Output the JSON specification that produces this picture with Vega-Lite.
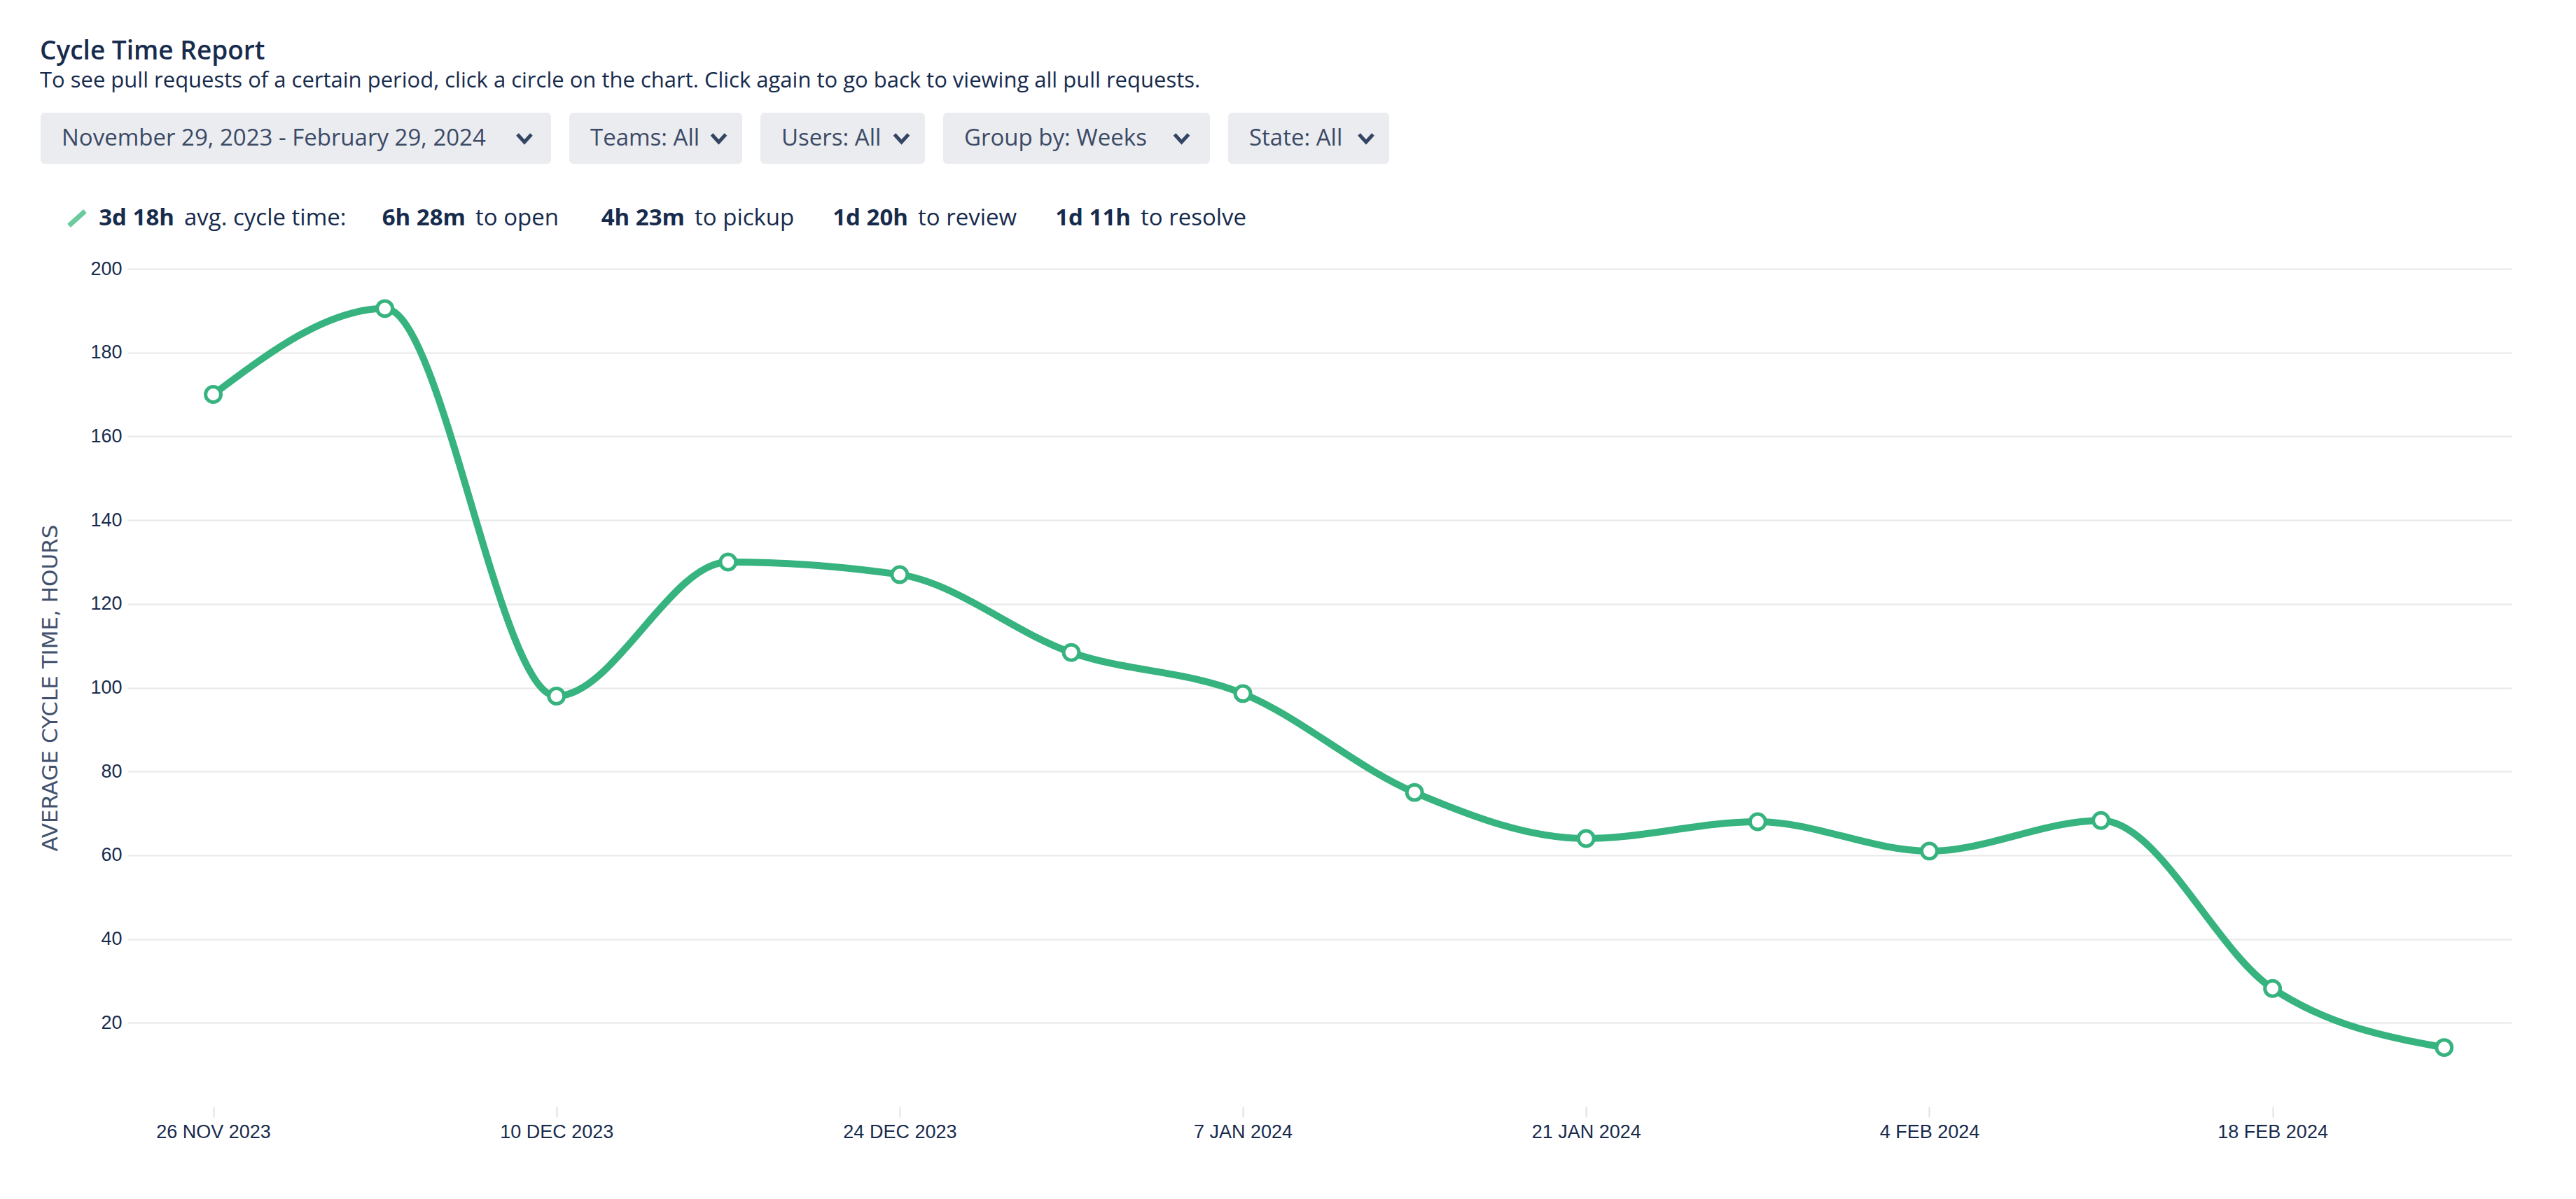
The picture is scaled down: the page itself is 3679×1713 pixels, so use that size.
{
  "$schema": "https://vega.github.io/schema/vega-lite/v6.json",
  "background": "white",
  "padding": {"left": 56, "top": 55, "right": 20, "bottom": 10},
  "title": {
    "text": "Cycle Time Report",
    "subtitle": "To see pull requests of a certain period, click a circle on the chart. Click again to go back to viewing all pull requests.",
    "anchor": "start",
    "font": "Open Sans",
    "fontSize": 37,
    "fontWeight": 600,
    "color": "#172B4D",
    "subtitleFont": "Open Sans",
    "subtitleFontSize": 31,
    "subtitleColor": "#172B4D",
    "subtitlePadding": 8,
    "offset": 29
  },
  "datasets": {
    "filters": [
      {"key": "range", "label": "November 29, 2023 - February 29, 2024"},
      {"key": "teams", "label": "Teams: All"},
      {"key": "users", "label": "Users: All"},
      {"key": "group", "label": "Group by: Weeks"},
      {"key": "state", "label": "State: All"}
    ],
    "stats": [
      {"key": "total", "value": "3d 18h", "label": "avg. cycle time:"},
      {"key": "open", "value": "6h 28m", "label": "to open"},
      {"key": "pickup", "value": "4h 23m", "label": "to pickup"},
      {"key": "review", "value": "1d 20h", "label": "to review"},
      {"key": "resolve", "value": "1d 11h", "label": "to resolve"}
    ],
    "cycle": [
      {"week": "2023-11-26", "hours": 170},
      {"week": "2023-12-03", "hours": 190.5},
      {"week": "2023-12-10", "hours": 98},
      {"week": "2023-12-17", "hours": 130},
      {"week": "2023-12-24", "hours": 127},
      {"week": "2023-12-31", "hours": 108.4},
      {"week": "2024-01-07", "hours": 98.6},
      {"week": "2024-01-14", "hours": 75},
      {"week": "2024-01-21", "hours": 64},
      {"week": "2024-01-28", "hours": 68},
      {"week": "2024-02-04", "hours": 61},
      {"week": "2024-02-11", "hours": 68.3},
      {"week": "2024-02-18", "hours": 28.2},
      {"week": "2024-02-25", "hours": 14.1}
    ]
  },
  "config": {
    "view": {"stroke": null},
    "font": "Open Sans"
  },
  "spacing": 30,
  "vconcat": [
    {
      "spacing": 26,
      "hconcat": [
        {
          "width": 729, "height": 73,
          "view": {"fill": "#EBECF0", "stroke": null, "cornerRadius": 6},
          "data": {"name": "filters"},
          "transform": [{"filter": "datum.key == 'range'"}],
          "layer": [
            {"mark": {"type": "text", "align": "left", "baseline": "middle", "xOffset": -334.5, "fontSize": 33, "color": "#3B4A66"}, "encoding": {"text": {"field": "label"}}},
            {"mark": {"type": "point", "shape": "M-1,-0.55L0,0.55L1,-0.55", "filled": false, "stroke": "#344563", "strokeWidth": 5, "size": 400, "xOffset": 326.5, "opacity": 1}, "encoding": {}}
          ]
        },
        {
          "width": 247, "height": 73,
          "view": {"fill": "#EBECF0", "stroke": null, "cornerRadius": 6},
          "data": {"name": "filters"},
          "transform": [{"filter": "datum.key == 'teams'"}],
          "layer": [
            {"mark": {"type": "text", "align": "left", "baseline": "middle", "xOffset": -93.5, "fontSize": 33, "color": "#3B4A66"}, "encoding": {"text": {"field": "label"}}},
            {"mark": {"type": "point", "shape": "M-1,-0.55L0,0.55L1,-0.55", "filled": false, "stroke": "#344563", "strokeWidth": 5, "size": 400, "xOffset": 90, "opacity": 1}, "encoding": {}}
          ]
        },
        {
          "width": 235, "height": 73,
          "view": {"fill": "#EBECF0", "stroke": null, "cornerRadius": 6},
          "data": {"name": "filters"},
          "transform": [{"filter": "datum.key == 'users'"}],
          "layer": [
            {"mark": {"type": "text", "align": "left", "baseline": "middle", "xOffset": -87.5, "fontSize": 33, "color": "#3B4A66"}, "encoding": {"text": {"field": "label"}}},
            {"mark": {"type": "point", "shape": "M-1,-0.55L0,0.55L1,-0.55", "filled": false, "stroke": "#344563", "strokeWidth": 5, "size": 400, "xOffset": 84, "opacity": 1}, "encoding": {}}
          ]
        },
        {
          "width": 381, "height": 73,
          "view": {"fill": "#EBECF0", "stroke": null, "cornerRadius": 6},
          "data": {"name": "filters"},
          "transform": [{"filter": "datum.key == 'group'"}],
          "layer": [
            {"mark": {"type": "text", "align": "left", "baseline": "middle", "xOffset": -160.5, "fontSize": 33, "color": "#3B4A66"}, "encoding": {"text": {"field": "label"}}},
            {"mark": {"type": "point", "shape": "M-1,-0.55L0,0.55L1,-0.55", "filled": false, "stroke": "#344563", "strokeWidth": 5, "size": 400, "xOffset": 150, "opacity": 1}, "encoding": {}}
          ]
        },
        {
          "width": 230, "height": 73,
          "view": {"fill": "#EBECF0", "stroke": null, "cornerRadius": 6},
          "data": {"name": "filters"},
          "transform": [{"filter": "datum.key == 'state'"}],
          "layer": [
            {"mark": {"type": "text", "align": "left", "baseline": "middle", "xOffset": -85, "fontSize": 33, "color": "#3B4A66"}, "encoding": {"text": {"field": "label"}}},
            {"mark": {"type": "point", "shape": "M-1,-0.55L0,0.55L1,-0.55", "filled": false, "stroke": "#344563", "strokeWidth": 5, "size": 400, "xOffset": 82, "opacity": 1}, "encoding": {}}
          ]
        }
      ]
    },
    {
      "spacing": 0,
      "bounds": "flush",
      "hconcat": [
        {
          "width": 396, "height": 76,
          "data": {"name": "stats"},
          "transform": [{"filter": "datum.key == 'total'"}],
          "layer": [
            {"mark": {"type": "point", "shape": "M-1,0.9L1,-0.9", "filled": false, "stroke": "#6ACB9E", "strokeWidth": 7, "size": 529, "xOffset": -146, "yOffset": 10, "opacity": 1}, "encoding": {}},
            {"mark": {"type": "text", "align": "right", "baseline": "middle", "xOffset": -7, "yOffset": 10, "fontSize": 33, "fontWeight": "bold", "color": "#172B4D"}, "encoding": {"text": {"field": "value"}}},
            {"mark": {"type": "text", "align": "left", "baseline": "middle", "xOffset": 7, "yOffset": 10, "fontSize": 33, "color": "#172B4D"}, "encoding": {"text": {"field": "label"}}}
          ]
        },
        {
          "width": 436, "height": 76,
          "data": {"name": "stats"},
          "transform": [{"filter": "datum.key == 'open'"}],
          "layer": [
            {"mark": {"type": "text", "align": "right", "baseline": "middle", "xOffset": -7, "yOffset": 10, "fontSize": 33, "fontWeight": "bold", "color": "#172B4D"}, "encoding": {"text": {"field": "value"}}},
            {"mark": {"type": "text", "align": "left", "baseline": "middle", "xOffset": 7, "yOffset": 10, "fontSize": 33, "color": "#172B4D"}, "encoding": {"text": {"field": "label"}}}
          ]
        },
        {
          "width": 190, "height": 76,
          "data": {"name": "stats"},
          "transform": [{"filter": "datum.key == 'pickup'"}],
          "layer": [
            {"mark": {"type": "text", "align": "right", "baseline": "middle", "xOffset": -7, "yOffset": 10, "fontSize": 33, "fontWeight": "bold", "color": "#172B4D"}, "encoding": {"text": {"field": "value"}}},
            {"mark": {"type": "text", "align": "left", "baseline": "middle", "xOffset": 7, "yOffset": 10, "fontSize": 33, "color": "#172B4D"}, "encoding": {"text": {"field": "label"}}}
          ]
        },
        {
          "width": 448, "height": 76,
          "data": {"name": "stats"},
          "transform": [{"filter": "datum.key == 'review'"}],
          "layer": [
            {"mark": {"type": "text", "align": "right", "baseline": "middle", "xOffset": -7, "yOffset": 10, "fontSize": 33, "fontWeight": "bold", "color": "#172B4D"}, "encoding": {"text": {"field": "value"}}},
            {"mark": {"type": "text", "align": "left", "baseline": "middle", "xOffset": 7, "yOffset": 10, "fontSize": 33, "color": "#172B4D"}, "encoding": {"text": {"field": "label"}}}
          ]
        },
        {
          "width": 188, "height": 76,
          "data": {"name": "stats"},
          "transform": [{"filter": "datum.key == 'resolve'"}],
          "layer": [
            {"mark": {"type": "text", "align": "right", "baseline": "middle", "xOffset": -7, "yOffset": 10, "fontSize": 33, "fontWeight": "bold", "color": "#172B4D"}, "encoding": {"text": {"field": "value"}}},
            {"mark": {"type": "text", "align": "left", "baseline": "middle", "xOffset": 7, "yOffset": 10, "fontSize": 33, "color": "#172B4D"}, "encoding": {"text": {"field": "label"}}}
          ]
        }
      ]
    },
    {
      "spacing": 0,
      "resolve": {"scale": {"y": "independent"}, "axis": {"y": "independent"}},
      "hconcat": [
        {
          "width": 124,
          "height": 1197,
          "data": {"name": "cycle"},
          "transform": [{"filter": "false"}],
          "mark": {"type": "point", "opacity": 0},
          "encoding": {
            "y": {
              "field": "hours",
              "type": "quantitative",
              "scale": {"domain": [0, 200]},
              "axis": {
                "title": "AVERAGE CYCLE TIME, HOURS",
                "offset": -124,
                "values": [20, 40, 60, 80, 100, 120, 140, 160, 180, 200],
                "domain": false,
                "ticks": false,
                "grid": false,
                "labelPadding": 8,
                "labelFont": "Liberation Sans",
                "labelFontSize": 27,
                "labelColor": "#172B4D",
                "titleFont": "DejaVu Sans",
                "titleFontSize": 31,
                "titleFontWeight": "normal",
                "titleColor": "#42526E",
                "titlePadding": 40
              }
            }
          }
        },
        {
          "width": 3405,
          "height": 1197,
          "data": {"name": "cycle"},
          "encoding": {
            "x": {
              "field": "week",
              "type": "temporal",
              "scale": {
                "type": "utc",
                "domain": [
                  {"year": 2023, "month": 11, "date": 22, "hours": 12, "utc": true},
                  {"year": 2024, "month": 2, "date": 27, "hours": 18, "utc": true}
                ]
              },
              "axis": {
                "title": null,
                "values": [
                  {"year": 2023, "month": 11, "date": 26, "utc": true},
                  {"year": 2023, "month": 12, "date": 10, "utc": true},
                  {"year": 2023, "month": 12, "date": 24, "utc": true},
                  {"year": 2024, "month": 1, "date": 7, "utc": true},
                  {"year": 2024, "month": 1, "date": 21, "utc": true},
                  {"year": 2024, "month": 2, "date": 4, "utc": true},
                  {"year": 2024, "month": 2, "date": 18, "utc": true}
                ],
                "labelExpr": "upper(utcFormat(datum.value, '%-d %b %Y'))",
                "grid": false,
                "domain": false,
                "ticks": true,
                "tickColor": "#E0E0E0",
                "tickWidth": 2,
                "tickSize": 15,
                "labelPadding": 8,
                "labelFont": "Liberation Sans",
                "labelFontSize": 27,
                "labelColor": "#172B4D",
                "labelFlush": false
              }
            },
            "y": {
              "field": "hours",
              "type": "quantitative",
              "scale": {"domain": [0, 200]},
              "axis": {
                "title": null,
                "labels": false,
                "values": [20, 40, 60, 80, 100, 120, 140, 160, 180, 200],
                "domain": false,
                "ticks": false,
                "grid": true,
                "gridColor": "#E8E8E8",
                "gridWidth": 2
              }
            }
          },
          "layer": [
            {"mark": {"type": "line", "interpolate": "monotone", "color": "#36B37E", "strokeWidth": 10}},
            {"mark": {"type": "point", "filled": true, "fill": "white", "stroke": "#36B37E", "strokeWidth": 5, "size": 480, "opacity": 1}}
          ]
        }
      ]
    }
  ]
}
